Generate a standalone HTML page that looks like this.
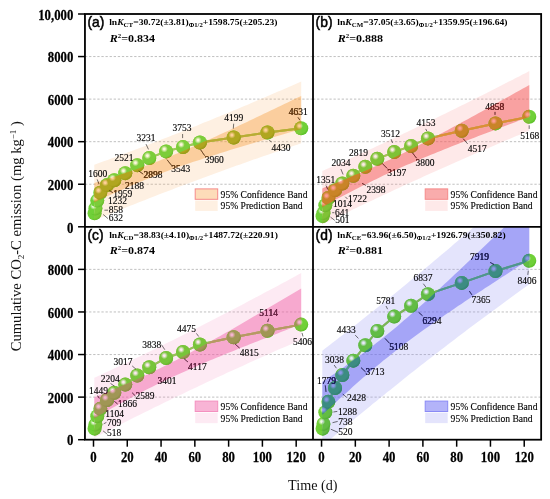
<!DOCTYPE html>
<html><head><meta charset="utf-8"><title>Cumulative CO2-C emission</title>
<style>html,body{margin:0;padding:0;background:#fff}body{width:550px;height:499px;overflow:hidden}</style></head>
<body>
<svg width="550" height="499" viewBox="0 0 550 499" style="display:block">
<defs>
<radialGradient id="sph" cx="0.37" cy="0.33" r="0.66" fx="0.37" fy="0.33"><stop offset="0" stop-color="#f0fbe4"/><stop offset="0.09" stop-color="#f0fbe4"/><stop offset="0.38" stop-color="#70d038"/><stop offset="0.8" stop-color="#70d038"/><stop offset="1" stop-color="#5ec22a"/></radialGradient>
<radialGradient id="spha" cx="0.37" cy="0.33" r="0.66" fx="0.37" fy="0.33"><stop offset="0" stop-color="#ffcf98"/><stop offset="0.09" stop-color="#ffcf98"/><stop offset="0.38" stop-color="#b0a620"/><stop offset="0.8" stop-color="#b0a620"/><stop offset="1" stop-color="#a29816"/></radialGradient>
<radialGradient id="sppa" cx="0.37" cy="0.33" r="0.66" fx="0.37" fy="0.33"><stop offset="0" stop-color="#fdf6dc"/><stop offset="0.09" stop-color="#fdf6dc"/><stop offset="0.38" stop-color="#7ccd3a"/><stop offset="0.8" stop-color="#7ccd3a"/><stop offset="1" stop-color="#6cc030"/></radialGradient>
<radialGradient id="sphb" cx="0.37" cy="0.33" r="0.66" fx="0.37" fy="0.33"><stop offset="0" stop-color="#ff9c94"/><stop offset="0.09" stop-color="#ff9c94"/><stop offset="0.38" stop-color="#c98428"/><stop offset="0.8" stop-color="#c98428"/><stop offset="1" stop-color="#bc781e"/></radialGradient>
<radialGradient id="sppb" cx="0.37" cy="0.33" r="0.66" fx="0.37" fy="0.33"><stop offset="0" stop-color="#fdeae6"/><stop offset="0.09" stop-color="#fdeae6"/><stop offset="0.38" stop-color="#80c236"/><stop offset="0.8" stop-color="#80c236"/><stop offset="1" stop-color="#70b62c"/></radialGradient>
<radialGradient id="sphc" cx="0.37" cy="0.33" r="0.66" fx="0.37" fy="0.33"><stop offset="0" stop-color="#f6b4d2"/><stop offset="0.09" stop-color="#f6b4d2"/><stop offset="0.38" stop-color="#a09655"/><stop offset="0.8" stop-color="#a09655"/><stop offset="1" stop-color="#938a4a"/></radialGradient>
<radialGradient id="sppc" cx="0.37" cy="0.33" r="0.66" fx="0.37" fy="0.33"><stop offset="0" stop-color="#fce8f0"/><stop offset="0.09" stop-color="#fce8f0"/><stop offset="0.38" stop-color="#78c43a"/><stop offset="0.8" stop-color="#78c43a"/><stop offset="1" stop-color="#68b830"/></radialGradient>
<radialGradient id="sphd" cx="0.37" cy="0.33" r="0.66" fx="0.37" fy="0.33"><stop offset="0" stop-color="#8c96ea"/><stop offset="0.09" stop-color="#8c96ea"/><stop offset="0.38" stop-color="#3c8c82"/><stop offset="0.8" stop-color="#3c8c82"/><stop offset="1" stop-color="#328078"/></radialGradient>
<radialGradient id="sppd" cx="0.37" cy="0.33" r="0.66" fx="0.37" fy="0.33"><stop offset="0" stop-color="#e8e8fc"/><stop offset="0.09" stop-color="#e8e8fc"/><stop offset="0.38" stop-color="#62bc44"/><stop offset="0.8" stop-color="#62bc44"/><stop offset="1" stop-color="#54ae38"/></radialGradient>
<clipPath id="cla"><rect x="84.95" y="14.00" width="228.05" height="212.80"/></clipPath>
<clipPath id="clb"><rect x="313.00" y="14.00" width="228.15" height="212.80"/></clipPath>
<clipPath id="clc"><rect x="84.95" y="226.80" width="228.05" height="212.90"/></clipPath>
<clipPath id="cld"><rect x="313.00" y="226.80" width="228.15" height="212.90"/></clipPath>
</defs>
<rect width="550" height="499" fill="#fff"/>
<line x1="85.0" y1="184.24" x2="313.0" y2="184.24" stroke="#b0b0b0" stroke-width="0.8" stroke-dasharray="2.3 1.8"/>
<line x1="85.0" y1="141.68" x2="313.0" y2="141.68" stroke="#b0b0b0" stroke-width="0.8" stroke-dasharray="2.3 1.8"/>
<line x1="85.0" y1="99.12" x2="313.0" y2="99.12" stroke="#b0b0b0" stroke-width="0.8" stroke-dasharray="2.3 1.8"/>
<line x1="85.0" y1="56.56" x2="313.0" y2="56.56" stroke="#b0b0b0" stroke-width="0.8" stroke-dasharray="2.3 1.8"/>
<line x1="313.0" y1="184.24" x2="541.1" y2="184.24" stroke="#b0b0b0" stroke-width="0.8" stroke-dasharray="2.3 1.8"/>
<line x1="313.0" y1="141.68" x2="541.1" y2="141.68" stroke="#b0b0b0" stroke-width="0.8" stroke-dasharray="2.3 1.8"/>
<line x1="313.0" y1="99.12" x2="541.1" y2="99.12" stroke="#b0b0b0" stroke-width="0.8" stroke-dasharray="2.3 1.8"/>
<line x1="313.0" y1="56.56" x2="541.1" y2="56.56" stroke="#b0b0b0" stroke-width="0.8" stroke-dasharray="2.3 1.8"/>
<line x1="85.0" y1="397.12" x2="313.0" y2="397.12" stroke="#b0b0b0" stroke-width="0.8" stroke-dasharray="2.3 1.8"/>
<line x1="85.0" y1="354.54" x2="313.0" y2="354.54" stroke="#b0b0b0" stroke-width="0.8" stroke-dasharray="2.3 1.8"/>
<line x1="85.0" y1="311.96" x2="313.0" y2="311.96" stroke="#b0b0b0" stroke-width="0.8" stroke-dasharray="2.3 1.8"/>
<line x1="85.0" y1="269.38" x2="313.0" y2="269.38" stroke="#b0b0b0" stroke-width="0.8" stroke-dasharray="2.3 1.8"/>
<line x1="313.0" y1="397.12" x2="541.1" y2="397.12" stroke="#b0b0b0" stroke-width="0.8" stroke-dasharray="2.3 1.8"/>
<line x1="313.0" y1="354.54" x2="541.1" y2="354.54" stroke="#b0b0b0" stroke-width="0.8" stroke-dasharray="2.3 1.8"/>
<line x1="313.0" y1="311.96" x2="541.1" y2="311.96" stroke="#b0b0b0" stroke-width="0.8" stroke-dasharray="2.3 1.8"/>
<line x1="313.0" y1="269.38" x2="541.1" y2="269.38" stroke="#b0b0b0" stroke-width="0.8" stroke-dasharray="2.3 1.8"/>
<defs>
<g id="pta"><polyline points="94.51,213.35 95.36,208.54 97.22,200.58 100.26,192.75 107.01,185.11 114.27,180.24 125.25,173.15 137.25,165.13 149.24,158.04 166.13,151.40 183.02,146.94 199.91,142.53 233.69,137.45 267.47,132.53 301.25,128.25" fill="none" stroke-width="2"/>
<circle cx="94.51" cy="213.35" r="7" stroke="none"/>
<circle cx="95.36" cy="208.54" r="7" stroke="none"/>
<circle cx="97.22" cy="200.58" r="7" stroke="none"/>
<circle cx="100.26" cy="192.75" r="7" stroke="none"/>
<circle cx="107.01" cy="185.11" r="7" stroke="none"/>
<circle cx="114.27" cy="180.24" r="7" stroke="none"/>
<circle cx="125.25" cy="173.15" r="7" stroke="none"/>
<circle cx="137.25" cy="165.13" r="7" stroke="none"/>
<circle cx="149.24" cy="158.04" r="7" stroke="none"/>
<circle cx="166.13" cy="151.40" r="7" stroke="none"/>
<circle cx="183.02" cy="146.94" r="7" stroke="none"/>
<circle cx="199.91" cy="142.53" r="7" stroke="none"/>
<circle cx="233.69" cy="137.45" r="7" stroke="none"/>
<circle cx="267.47" cy="132.53" r="7" stroke="none"/>
<circle cx="301.25" cy="128.25" r="7" stroke="none"/>
</g>
<polygon id="ppa" points="94.3,164.8 97.7,163.6 101.0,162.3 104.4,161.1 107.8,159.9 111.2,158.6 114.6,157.4 118.0,156.1 121.4,154.8 124.8,153.6 128.2,152.3 131.6,151.0 135.0,149.7 138.4,148.5 141.8,147.2 145.2,145.9 148.6,144.6 151.9,143.3 155.3,142.0 158.7,140.7 162.1,139.3 165.5,138.0 168.9,136.7 172.3,135.3 175.7,134.0 179.1,132.7 182.5,131.3 185.9,130.0 189.3,128.6 192.7,127.3 196.1,125.9 199.5,124.5 202.8,123.1 206.2,121.8 209.6,120.4 213.0,119.0 216.4,117.6 219.8,116.2 223.2,114.8 226.6,113.4 230.0,112.0 233.4,110.6 236.8,109.2 240.2,107.7 243.6,106.3 247.0,104.9 250.3,103.4 253.7,102.0 257.1,100.6 260.5,99.1 263.9,97.7 267.3,96.2 270.7,94.7 274.1,93.3 277.5,91.8 280.9,90.4 284.3,88.9 287.7,87.4 291.1,85.9 294.5,84.4 297.9,83.0 301.2,81.5 301.2,143.3 297.9,144.4 294.5,145.6 291.1,146.7 287.7,147.9 284.3,149.0 280.9,150.2 277.5,151.4 274.1,152.5 270.7,153.7 267.3,154.9 263.9,156.0 260.5,157.2 257.1,158.4 253.7,159.6 250.3,160.8 247.0,162.0 243.6,163.2 240.2,164.4 236.8,165.6 233.4,166.8 230.0,168.0 226.6,169.2 223.2,170.5 219.8,171.7 216.4,172.9 213.0,174.2 209.6,175.4 206.2,176.7 202.8,177.9 199.5,179.2 196.1,180.4 192.7,181.7 189.3,183.0 185.9,184.2 182.5,185.5 179.1,186.8 175.7,188.1 172.3,189.4 168.9,190.7 165.5,192.0 162.1,193.3 158.7,194.6 155.3,195.9 151.9,197.3 148.6,198.6 145.2,199.9 141.8,201.2 138.4,202.6 135.0,203.9 131.6,205.3 128.2,206.6 124.8,208.0 121.4,209.4 118.0,210.7 114.6,212.1 111.2,213.5 107.8,214.9 104.4,216.3 101.0,217.7 97.7,219.0 94.3,220.4"/><polygon id="cpa" points="94.3,183.1 97.7,182.0 101.0,180.9 104.4,179.8 107.8,178.8 111.2,177.7 114.6,176.5 118.0,175.4 121.4,174.3 124.8,173.2 128.2,172.0 131.6,170.8 135.0,169.7 138.4,168.5 141.8,167.2 145.2,166.0 148.6,164.8 151.9,163.5 155.3,162.2 158.7,160.9 162.1,159.6 165.5,158.2 168.9,156.9 172.3,155.5 175.7,154.1 179.1,152.7 182.5,151.2 185.9,149.8 189.3,148.3 192.7,146.8 196.1,145.3 199.5,143.8 202.8,142.3 206.2,140.8 209.6,139.3 213.0,137.7 216.4,136.2 219.8,134.6 223.2,133.0 226.6,131.5 230.0,129.9 233.4,128.3 236.8,126.7 240.2,125.1 243.6,123.5 247.0,121.9 250.3,120.3 253.7,118.7 257.1,117.1 260.5,115.4 263.9,113.8 267.3,112.2 270.7,110.6 274.1,109.0 277.5,107.3 280.9,105.7 284.3,104.1 287.7,102.4 291.1,100.8 294.5,99.1 297.9,97.5 301.2,95.9 301.2,128.9 297.9,129.9 294.5,130.9 291.1,131.9 287.7,132.9 284.3,133.9 280.9,134.9 277.5,135.9 274.1,136.9 270.7,137.9 267.3,138.9 263.9,139.9 260.5,140.9 257.1,141.9 253.7,142.9 250.3,143.9 247.0,145.0 243.6,146.0 240.2,147.0 236.8,148.1 233.4,149.1 230.0,150.1 226.6,151.2 223.2,152.2 219.8,153.3 216.4,154.4 213.0,155.5 209.6,156.5 206.2,157.6 202.8,158.7 199.5,159.9 196.1,161.0 192.7,162.1 189.3,163.3 185.9,164.4 182.5,165.6 179.1,166.8 175.7,168.0 172.3,169.3 168.9,170.5 165.5,171.8 162.1,173.1 158.7,174.4 155.3,175.7 151.9,177.0 148.6,178.4 145.2,179.8 141.8,181.2 138.4,182.6 135.0,184.0 131.6,185.5 128.2,186.9 124.8,188.4 121.4,189.9 118.0,191.4 114.6,192.9 111.2,194.4 107.8,196.0 104.4,197.5 101.0,199.1 97.7,200.6 94.3,202.2"/>
<clipPath id="pfa"><use href="#ppa"/></clipPath><clipPath id="cfa"><use href="#cpa"/></clipPath>
<g id="lba" font-family="'Liberation Serif',serif" font-size="9.5" stroke-width="0.12">
<text x="108.8" y="221.0">632</text>
<text x="108.8" y="213.3">858</text>
<text x="108" y="203.7">1232</text>
<text x="113.3" y="196.5">1959</text>
<text x="124.9" y="189.3">2188</text>
<text x="88.3" y="177.2">1600</text>
<text x="114.5" y="161.1">2521</text>
<text x="143.6" y="177.7">2898</text>
<text x="136.4" y="141.2">3231</text>
<text x="171.3" y="171.9">3543</text>
<text x="172.5" y="130.8">3753</text>
<text x="204.7" y="163.0">3960</text>
<text x="224.3" y="120.5">4199</text>
<text x="271.6" y="150.9">4430</text>
<text x="288.8" y="115.0">4631</text>
<line x1="103.2" y1="214.5" x2="108" y2="218.6" stroke-width="0.55"/>
<line x1="104.4" y1="210.2" x2="108" y2="210.2" stroke-width="0.55"/>
<line x1="109.3" y1="190.5" x2="112.9" y2="192.7" stroke-width="0.55"/>
<line x1="97.2" y1="179.4" x2="98.9" y2="183.8" stroke-width="0.55"/>
<line x1="138.8" y1="171" x2="143.2" y2="174.1" stroke-width="0.55"/>
<line x1="146" y1="144.1" x2="148.5" y2="149.4" stroke-width="0.55"/>
<line x1="167" y1="159.7" x2="171.8" y2="165.7" stroke-width="0.55"/>
<line x1="182.6" y1="134" x2="182.6" y2="138.1" stroke-width="0.55"/>
<line x1="200.6" y1="149.7" x2="204.7" y2="155.7" stroke-width="0.55"/>
<line x1="233.7" y1="123.7" x2="233.3" y2="128.5" stroke-width="0.55"/>
<line x1="269.2" y1="140.3" x2="271.6" y2="141.9" stroke-width="0.55"/>
<line x1="298" y1="117.4" x2="299.9" y2="120.2" stroke-width="0.55"/>
</g>
</defs>
<g clip-path="url(#cla)">
<use href="#pta" fill="url(#sph)" stroke="#8ccc4c"/>
<use href="#ppa" fill="#fbb46e" fill-opacity="0.2"/>
<use href="#cpa" fill="#f8942a" fill-opacity="0.37"/>
<g clip-path="url(#pfa)"><use href="#pta" fill="url(#sppa)" stroke="#9ccb58"/></g>
<g clip-path="url(#cfa)"><use href="#pta" fill="url(#spha)" stroke="#bcaa32"/></g>
<use href="#lba" fill="#000" stroke="#000"/>
<g clip-path="url(#cfa)"><use href="#lba" fill="#7a4410" stroke="#7a4410"/></g>
</g>
<rect x="195.2" y="188.9" width="22.5" height="10.4" fill="#f8942a" fill-opacity="0.33" stroke="#f58a8a" stroke-width="1"/>
<rect x="195.2" y="200.5" width="22.5" height="10.4" fill="#fbb46e" fill-opacity="0.2"/>
<g font-family="'Liberation Serif',serif" font-size="9.6" fill="#000" stroke="#000" stroke-width="0.12">
<text x="220.6" y="197.7">95% Confidence Band</text>
<text x="220.6" y="209.4">95% Prediction Band</text>
</g>
<text transform="translate(87.5,26.8) scale(0.96,1)" font-family="'Liberation Sans',sans-serif" font-size="14.4" stroke="#000" stroke-width="0.5">(a)</text>
<text transform="translate(109.2,25.0) scale(1.045,1)" font-family="'Liberation Serif',serif" font-weight="bold" font-size="9.2" fill="#000">ln<tspan font-style="italic">K</tspan><tspan font-size="6.6" dy="2">CT</tspan><tspan dy="-2">=30.72(±3.81)</tspan><tspan font-size="6.4" dy="2">Φ1/2</tspan><tspan dy="-2">+1598.75(±205.23)</tspan></text>
<text transform="translate(109.8,41.6) scale(1.055,1)" font-family="'Liberation Serif',serif" font-weight="bold" font-size="11.4" fill="#000"><tspan font-style="italic">R</tspan><tspan font-size="6.5" dy="-4">2</tspan><tspan dy="4">=0.834</tspan></text>
<defs>
<g id="ptb"><polyline points="322.56,216.14 323.41,213.16 325.27,205.22 328.31,198.05 335.06,190.16 342.32,183.52 353.30,175.77 365.30,166.81 377.29,158.77 394.18,152.06 411.07,145.94 427.96,138.42 461.74,130.68 495.52,123.42 529.30,116.82" fill="none" stroke-width="2"/>
<circle cx="322.56" cy="216.14" r="7" stroke="none"/>
<circle cx="323.41" cy="213.16" r="7" stroke="none"/>
<circle cx="325.27" cy="205.22" r="7" stroke="none"/>
<circle cx="328.31" cy="198.05" r="7" stroke="none"/>
<circle cx="335.06" cy="190.16" r="7" stroke="none"/>
<circle cx="342.32" cy="183.52" r="7" stroke="none"/>
<circle cx="353.30" cy="175.77" r="7" stroke="none"/>
<circle cx="365.30" cy="166.81" r="7" stroke="none"/>
<circle cx="377.29" cy="158.77" r="7" stroke="none"/>
<circle cx="394.18" cy="152.06" r="7" stroke="none"/>
<circle cx="411.07" cy="145.94" r="7" stroke="none"/>
<circle cx="427.96" cy="138.42" r="7" stroke="none"/>
<circle cx="461.74" cy="130.68" r="7" stroke="none"/>
<circle cx="495.52" cy="123.42" r="7" stroke="none"/>
<circle cx="529.30" cy="116.82" r="7" stroke="none"/>
</g>
<polygon id="ppb" points="322.3,170.9 325.7,169.4 329.1,167.9 332.5,166.4 335.9,164.9 339.3,163.4 342.7,161.8 346.1,160.3 349.5,158.8 352.8,157.2 356.2,155.7 359.6,154.1 363.0,152.6 366.4,151.0 369.8,149.5 373.2,147.9 376.6,146.3 380.0,144.7 383.4,143.2 386.8,141.6 390.2,140.0 393.6,138.4 397.0,136.8 400.4,135.2 403.7,133.6 407.1,132.0 410.5,130.3 413.9,128.7 417.3,127.1 420.7,125.5 424.1,123.8 427.5,122.2 430.9,120.6 434.3,118.9 437.7,117.2 441.1,115.6 444.5,113.9 447.9,112.3 451.3,110.6 454.6,108.9 458.0,107.2 461.4,105.6 464.8,103.9 468.2,102.2 471.6,100.5 475.0,98.8 478.4,97.1 481.8,95.4 485.2,93.7 488.6,92.0 492.0,90.2 495.4,88.5 498.8,86.8 502.2,85.1 505.5,83.3 508.9,81.6 512.3,79.9 515.7,78.1 519.1,76.4 522.5,74.6 525.9,72.9 529.3,71.1 529.3,130.6 525.9,132.1 522.5,133.5 519.1,134.9 515.7,136.3 512.3,137.8 508.9,139.2 505.5,140.6 502.2,142.1 498.8,143.5 495.4,145.0 492.0,146.4 488.6,147.9 485.2,149.4 481.8,150.8 478.4,152.3 475.0,153.8 471.6,155.2 468.2,156.7 464.8,158.2 461.4,159.7 458.0,161.2 454.6,162.7 451.3,164.2 447.9,165.7 444.5,167.2 441.1,168.7 437.7,170.2 434.3,171.7 430.9,173.3 427.5,174.8 424.1,176.3 420.7,177.9 417.3,179.4 413.9,181.0 410.5,182.5 407.1,184.1 403.7,185.6 400.4,187.2 397.0,188.8 393.6,190.3 390.2,191.9 386.8,193.5 383.4,195.1 380.0,196.7 376.6,198.3 373.2,199.9 369.8,201.5 366.4,203.1 363.0,204.7 359.6,206.3 356.2,208.0 352.8,209.6 349.5,211.2 346.1,212.9 342.7,214.5 339.3,216.2 335.9,217.8 332.5,219.5 329.1,221.1 325.7,222.8 322.3,224.5"/><polygon id="cpb" points="322.3,188.5 325.7,187.1 329.1,185.8 332.5,184.4 335.9,183.1 339.3,181.7 342.7,180.3 346.1,178.9 349.5,177.5 352.8,176.1 356.2,174.6 359.6,173.2 363.0,171.7 366.4,170.3 369.8,168.8 373.2,167.3 376.6,165.7 380.0,164.2 383.4,162.6 386.8,161.0 390.2,159.5 393.6,157.8 397.0,156.2 400.4,154.5 403.7,152.9 407.1,151.2 410.5,149.5 413.9,147.8 417.3,146.0 420.7,144.3 424.1,142.5 427.5,140.8 430.9,139.0 434.3,137.2 437.7,135.4 441.1,133.6 444.5,131.8 447.9,130.0 451.3,128.1 454.6,126.3 458.0,124.5 461.4,122.6 464.8,120.8 468.2,118.9 471.6,117.0 475.0,115.2 478.4,113.3 481.8,111.4 485.2,109.6 488.6,107.7 492.0,105.8 495.4,103.9 498.8,102.0 502.2,100.1 505.5,98.3 508.9,96.4 512.3,94.5 515.7,92.6 519.1,90.7 522.5,88.8 525.9,86.9 529.3,85.0 529.3,116.8 525.9,118.1 522.5,119.3 519.1,120.6 515.7,121.9 512.3,123.2 508.9,124.4 505.5,125.7 502.2,127.0 498.8,128.3 495.4,129.6 492.0,130.9 488.6,132.2 485.2,133.5 481.8,134.8 478.4,136.1 475.0,137.4 471.6,138.7 468.2,140.0 464.8,141.3 461.4,142.6 458.0,144.0 454.6,145.3 451.3,146.6 447.9,148.0 444.5,149.3 441.1,150.7 437.7,152.1 434.3,153.4 430.9,154.8 427.5,156.2 424.1,157.6 420.7,159.0 417.3,160.5 413.9,161.9 410.5,163.4 407.1,164.8 403.7,166.3 400.4,167.8 397.0,169.4 393.6,170.9 390.2,172.5 386.8,174.0 383.4,175.6 380.0,177.2 376.6,178.9 373.2,180.5 369.8,182.2 366.4,183.9 363.0,185.6 359.6,187.3 356.2,189.0 352.8,190.8 349.5,192.5 346.1,194.3 342.7,196.0 339.3,197.8 335.9,199.6 332.5,201.4 329.1,203.3 325.7,205.1 322.3,206.9"/>
<clipPath id="pfb"><use href="#ppb"/></clipPath><clipPath id="cfb"><use href="#cpb"/></clipPath>
<g id="lbb" font-family="'Liberation Serif',serif" font-size="9.5" stroke-width="0.12">
<text x="335.3" y="222.8">501</text>
<text x="335" y="215.8">641</text>
<text x="333" y="207.1">1014</text>
<text x="347.9" y="201.6">1722</text>
<text x="316.3" y="183.1">1351</text>
<text x="366.5" y="193.4">2398</text>
<text x="331.5" y="166.1">2034</text>
<text x="349" y="156.3">2819</text>
<text x="387.2" y="175.9">3197</text>
<text x="381" y="136.6">3512</text>
<text x="415.5" y="166.1">3800</text>
<text x="416.6" y="126.1">4153</text>
<text x="467.7" y="152.1">4517</text>
<text x="485.2" y="109.6">4858</text>
<text x="520.3" y="138.5">5168</text>
<line x1="330.5" y1="217.1" x2="334.8" y2="220.4" stroke-width="0.55"/>
<line x1="332.2" y1="212.7" x2="334.4" y2="212.7" stroke-width="0.55"/>
<line x1="345.3" y1="196.8" x2="347.5" y2="199" stroke-width="0.55"/>
<line x1="326" y1="185.5" x2="327.8" y2="189.4" stroke-width="0.55"/>
<line x1="362" y1="183.3" x2="366" y2="185.5" stroke-width="0.55"/>
<line x1="340.9" y1="169.1" x2="343.1" y2="174.5" stroke-width="0.55"/>
<line x1="382.4" y1="163.6" x2="387.2" y2="168.4" stroke-width="0.55"/>
<line x1="391.1" y1="139.2" x2="392.6" y2="142.9" stroke-width="0.55"/>
<line x1="412.3" y1="152.7" x2="416.6" y2="158.2" stroke-width="0.55"/>
<line x1="425.7" y1="128.9" x2="426.8" y2="131.1" stroke-width="0.55"/>
<line x1="463.2" y1="138.7" x2="467.7" y2="143.9" stroke-width="0.55"/>
<line x1="495" y1="111.9" x2="495" y2="114.8" stroke-width="0.55"/>
<line x1="529.2" y1="125.3" x2="529.2" y2="128.9" stroke-width="0.55"/>
</g>
</defs>
<g clip-path="url(#clb)">
<use href="#ptb" fill="url(#sph)" stroke="#8ccc4c"/>
<use href="#ppb" fill="#f98a8a" fill-opacity="0.19"/>
<use href="#cpb" fill="#f45a5a" fill-opacity="0.5"/>
<g clip-path="url(#pfb)"><use href="#ptb" fill="url(#sppb)" stroke="#a4c058"/></g>
<g clip-path="url(#cfb)"><use href="#ptb" fill="url(#sphb)" stroke="#e08c34"/></g>
<use href="#lbb" fill="#000" stroke="#000"/>
<g clip-path="url(#cfb)"><use href="#lbb" fill="#8a2424" stroke="#8a2424"/></g>
</g>
<rect x="425.2" y="188.9" width="22.5" height="10.4" fill="#f45a5a" fill-opacity="0.50" stroke="#f58a8a" stroke-width="1"/>
<rect x="425.2" y="200.5" width="22.5" height="10.4" fill="#f98a8a" fill-opacity="0.19"/>
<g font-family="'Liberation Serif',serif" font-size="9.6" fill="#000" stroke="#000" stroke-width="0.12">
<text x="450.6" y="197.7">95% Confidence Band</text>
<text x="450.6" y="209.4">95% Prediction Band</text>
</g>
<text transform="translate(315.6,26.8) scale(0.96,1)" font-family="'Liberation Sans',sans-serif" font-size="14.4" stroke="#000" stroke-width="0.5">(b)</text>
<text transform="translate(337.3,25.0) scale(1.045,1)" font-family="'Liberation Serif',serif" font-weight="bold" font-size="9.2" fill="#000">ln<tspan font-style="italic">K</tspan><tspan font-size="6.6" dy="2">CM</tspan><tspan dy="-2">=37.05(±3.65)</tspan><tspan font-size="6.4" dy="2">Φ1/2</tspan><tspan dy="-2">+1359.95(±196.64)</tspan></text>
<text transform="translate(337.8,41.6) scale(1.055,1)" font-family="'Liberation Serif',serif" font-weight="bold" font-size="11.4" fill="#000"><tspan font-style="italic">R</tspan><tspan font-size="6.5" dy="-4">2</tspan><tspan dy="4">=0.888</tspan></text>
<defs>
<g id="ptc"><polyline points="94.51,428.67 95.36,424.61 97.22,416.20 100.26,408.85 107.01,399.97 114.27,392.78 125.25,384.58 137.25,375.47 149.24,367.29 166.13,357.99 183.02,352.05 199.91,344.43 233.69,337.19 267.47,330.82 301.25,324.61" fill="none" stroke-width="2"/>
<circle cx="94.51" cy="428.67" r="7" stroke="none"/>
<circle cx="95.36" cy="424.61" r="7" stroke="none"/>
<circle cx="97.22" cy="416.20" r="7" stroke="none"/>
<circle cx="100.26" cy="408.85" r="7" stroke="none"/>
<circle cx="107.01" cy="399.97" r="7" stroke="none"/>
<circle cx="114.27" cy="392.78" r="7" stroke="none"/>
<circle cx="125.25" cy="384.58" r="7" stroke="none"/>
<circle cx="137.25" cy="375.47" r="7" stroke="none"/>
<circle cx="149.24" cy="367.29" r="7" stroke="none"/>
<circle cx="166.13" cy="357.99" r="7" stroke="none"/>
<circle cx="183.02" cy="352.05" r="7" stroke="none"/>
<circle cx="199.91" cy="344.43" r="7" stroke="none"/>
<circle cx="233.69" cy="337.19" r="7" stroke="none"/>
<circle cx="267.47" cy="330.82" r="7" stroke="none"/>
<circle cx="301.25" cy="324.61" r="7" stroke="none"/>
</g>
<polygon id="ppc" points="94.3,377.8 97.7,376.2 101.0,374.7 104.4,373.1 107.8,371.5 111.2,369.9 114.6,368.3 118.0,366.7 121.4,365.1 124.8,363.5 128.2,361.9 131.6,360.3 135.0,358.6 138.4,357.0 141.8,355.4 145.2,353.7 148.6,352.1 151.9,350.4 155.3,348.8 158.7,347.1 162.1,345.4 165.5,343.8 168.9,342.1 172.3,340.4 175.7,338.7 179.1,337.0 182.5,335.3 185.9,333.6 189.3,331.9 192.7,330.2 196.1,328.5 199.5,326.8 202.8,325.0 206.2,323.3 209.6,321.6 213.0,319.8 216.4,318.1 219.8,316.3 223.2,314.6 226.6,312.8 230.0,311.0 233.4,309.3 236.8,307.5 240.2,305.7 243.6,303.9 247.0,302.1 250.3,300.3 253.7,298.5 257.1,296.7 260.5,294.9 263.9,293.1 267.3,291.3 270.7,289.5 274.1,287.7 277.5,285.9 280.9,284.0 284.3,282.2 287.7,280.4 291.1,278.5 294.5,276.7 297.9,274.8 301.2,273.0 301.2,339.7 297.9,341.2 294.5,342.7 291.1,344.2 287.7,345.7 284.3,347.2 280.9,348.6 277.5,350.1 274.1,351.6 270.7,353.2 267.3,354.7 263.9,356.2 260.5,357.7 257.1,359.2 253.7,360.7 250.3,362.3 247.0,363.8 243.6,365.4 240.2,366.9 236.8,368.4 233.4,370.0 230.0,371.6 226.6,373.1 223.2,374.7 219.8,376.3 216.4,377.8 213.0,379.4 209.6,381.0 206.2,382.6 202.8,384.2 199.5,385.8 196.1,387.4 192.7,389.0 189.3,390.6 185.9,392.2 182.5,393.9 179.1,395.5 175.7,397.1 172.3,398.8 168.9,400.4 165.5,402.1 162.1,403.7 158.7,405.4 155.3,407.0 151.9,408.7 148.6,410.4 145.2,412.1 141.8,413.8 138.4,415.5 135.0,417.1 131.6,418.8 128.2,420.6 124.8,422.3 121.4,424.0 118.0,425.7 114.6,427.4 111.2,429.2 107.8,430.9 104.4,432.6 101.0,434.4 97.7,436.1 94.3,437.9"/><polygon id="cpc" points="94.3,397.5 97.7,396.1 101.0,394.7 104.4,393.3 107.8,391.9 111.2,390.5 114.6,389.0 118.0,387.6 121.4,386.1 124.8,384.6 128.2,383.2 131.6,381.6 135.0,380.1 138.4,378.6 141.8,377.0 145.2,375.5 148.6,373.9 151.9,372.2 155.3,370.6 158.7,369.0 162.1,367.3 165.5,365.6 168.9,363.9 172.3,362.1 175.7,360.4 179.1,358.6 182.5,356.8 185.9,355.0 189.3,353.2 192.7,351.3 196.1,349.5 199.5,347.6 202.8,345.7 206.2,343.8 209.6,341.9 213.0,340.0 216.4,338.1 219.8,336.2 223.2,334.2 226.6,332.3 230.0,330.4 233.4,328.4 236.8,326.4 240.2,324.5 243.6,322.5 247.0,320.5 250.3,318.5 253.7,316.6 257.1,314.6 260.5,312.6 263.9,310.6 267.3,308.6 270.7,306.6 274.1,304.6 277.5,302.6 280.9,300.6 284.3,298.6 287.7,296.6 291.1,294.6 294.5,292.5 297.9,290.5 301.2,288.5 301.2,324.2 297.9,325.5 294.5,326.8 291.1,328.1 287.7,329.5 284.3,330.8 280.9,332.1 277.5,333.4 274.1,334.7 270.7,336.1 267.3,337.4 263.9,338.7 260.5,340.1 257.1,341.4 253.7,342.7 250.3,344.1 247.0,345.4 243.6,346.8 240.2,348.1 236.8,349.5 233.4,350.9 230.0,352.2 226.6,353.6 223.2,355.0 219.8,356.4 216.4,357.8 213.0,359.2 209.6,360.6 206.2,362.0 202.8,363.5 199.5,364.9 196.1,366.4 192.7,367.9 189.3,369.4 185.9,370.9 182.5,372.4 179.1,373.9 175.7,375.5 172.3,377.0 168.9,378.6 165.5,380.2 162.1,381.9 158.7,383.5 155.3,385.2 151.9,386.9 148.6,388.6 145.2,390.3 141.8,392.1 138.4,393.9 135.0,395.6 131.6,397.5 128.2,399.3 124.8,401.1 121.4,403.0 118.0,404.8 114.6,406.7 111.2,408.6 107.8,410.5 104.4,412.4 101.0,414.3 97.7,416.3 94.3,418.2"/>
<clipPath id="pfc"><use href="#ppc"/></clipPath><clipPath id="cfc"><use href="#cpc"/></clipPath>
<g id="lbc" font-family="'Liberation Serif',serif" font-size="9.5" stroke-width="0.12">
<text x="107.1" y="436.3">518</text>
<text x="107.1" y="425.5">709</text>
<text x="105.3" y="416.8">1104</text>
<text x="118.1" y="407.1">1866</text>
<text x="88.9" y="394.1">1449</text>
<text x="135.6" y="398.8">2589</text>
<text x="100.8" y="381.8">2204</text>
<text x="113.6" y="364.5">3017</text>
<text x="157.6" y="384.2">3401</text>
<text x="142.3" y="348.4">3838</text>
<text x="188" y="370.1">4117</text>
<text x="177.1" y="331.5">4475</text>
<text x="239.7" y="356.1">4815</text>
<text x="259.3" y="316.2">5114</text>
<text x="293.1" y="344.9">5406</text>
<line x1="103.1" y1="430.9" x2="106.9" y2="433.9" stroke-width="0.55"/>
<line x1="103.7" y1="423.8" x2="106.4" y2="422.4" stroke-width="0.55"/>
<line x1="114.3" y1="401.3" x2="117.6" y2="404" stroke-width="0.55"/>
<line x1="97.5" y1="395.5" x2="99.3" y2="398.4" stroke-width="0.55"/>
<line x1="132.2" y1="392.8" x2="135.6" y2="396.2" stroke-width="0.55"/>
<line x1="110.5" y1="383.4" x2="114.3" y2="386.1" stroke-width="0.55"/>
<line x1="132.2" y1="365.9" x2="136" y2="369.3" stroke-width="0.55"/>
<line x1="161.4" y1="344.6" x2="164.8" y2="349.7" stroke-width="0.55"/>
<line x1="184.2" y1="358.9" x2="188" y2="362" stroke-width="0.55"/>
<line x1="196.4" y1="333.4" x2="198.7" y2="336.5" stroke-width="0.55"/>
<line x1="235.1" y1="344.1" x2="239.7" y2="348.2" stroke-width="0.55"/>
<line x1="268.7" y1="318.7" x2="267.7" y2="322" stroke-width="0.55"/>
<line x1="302" y1="332.9" x2="303" y2="336.5" stroke-width="0.55"/>
</g>
</defs>
<g clip-path="url(#clc)">
<use href="#ptc" fill="url(#sph)" stroke="#8ccc4c"/>
<use href="#ppc" fill="#f58fc0" fill-opacity="0.19"/>
<use href="#cpc" fill="#f060a6" fill-opacity="0.47"/>
<g clip-path="url(#pfc)"><use href="#ptc" fill="url(#sppc)" stroke="#98c05c"/></g>
<g clip-path="url(#cfc)"><use href="#ptc" fill="url(#sphc)" stroke="#b99664"/></g>
<use href="#lbc" fill="#000" stroke="#000"/>
<g clip-path="url(#cfc)"><use href="#lbc" fill="#7e2850" stroke="#7e2850"/></g>
</g>
<rect x="195.2" y="401.1" width="22.5" height="10.4" fill="#f060a6" fill-opacity="0.47" stroke="#f490bf" stroke-width="1"/>
<rect x="195.2" y="412.7" width="22.5" height="10.4" fill="#f58fc0" fill-opacity="0.19"/>
<g font-family="'Liberation Serif',serif" font-size="9.6" fill="#000" stroke="#000" stroke-width="0.12">
<text x="220.6" y="409.9">95% Confidence Band</text>
<text x="220.6" y="421.6">95% Prediction Band</text>
</g>
<text transform="translate(87.5,239.6) scale(0.96,1)" font-family="'Liberation Sans',sans-serif" font-size="14.4" stroke="#000" stroke-width="0.5">(c)</text>
<text transform="translate(109.2,237.8) scale(1.045,1)" font-family="'Liberation Serif',serif" font-weight="bold" font-size="9.2" fill="#000">ln<tspan font-style="italic">K</tspan><tspan font-size="6.6" dy="2">CD</tspan><tspan dy="-2">=38.83(±4.10)</tspan><tspan font-size="6.4" dy="2">Φ1/2</tspan><tspan dy="-2">+1487.72(±220.91)</tspan></text>
<text transform="translate(109.8,254.4) scale(1.055,1)" font-family="'Liberation Serif',serif" font-weight="bold" font-size="11.4" fill="#000"><tspan font-style="italic">R</tspan><tspan font-size="6.5" dy="-4">2</tspan><tspan dy="4">=0.874</tspan></text>
<defs>
<g id="ptd"><polyline points="322.56,428.63 323.41,423.99 325.27,412.28 328.31,401.83 335.06,388.01 342.32,375.02 353.30,360.65 365.30,345.32 377.29,330.95 394.18,316.62 411.07,305.70 427.96,294.14 461.74,282.90 495.52,271.10 529.30,260.74" fill="none" stroke-width="2"/>
<circle cx="322.56" cy="428.63" r="7" stroke="none"/>
<circle cx="323.41" cy="423.99" r="7" stroke="none"/>
<circle cx="325.27" cy="412.28" r="7" stroke="none"/>
<circle cx="328.31" cy="401.83" r="7" stroke="none"/>
<circle cx="335.06" cy="388.01" r="7" stroke="none"/>
<circle cx="342.32" cy="375.02" r="7" stroke="none"/>
<circle cx="353.30" cy="360.65" r="7" stroke="none"/>
<circle cx="365.30" cy="345.32" r="7" stroke="none"/>
<circle cx="377.29" cy="330.95" r="7" stroke="none"/>
<circle cx="394.18" cy="316.62" r="7" stroke="none"/>
<circle cx="411.07" cy="305.70" r="7" stroke="none"/>
<circle cx="427.96" cy="294.14" r="7" stroke="none"/>
<circle cx="461.74" cy="282.90" r="7" stroke="none"/>
<circle cx="495.52" cy="271.10" r="7" stroke="none"/>
<circle cx="529.30" cy="260.74" r="7" stroke="none"/>
</g>
<polygon id="ppd" points="322.3,350.7 325.7,348.1 329.1,345.5 332.5,342.8 335.9,340.2 339.3,337.6 342.7,335.0 346.1,332.3 349.5,329.7 352.8,327.0 356.2,324.4 359.6,321.7 363.0,319.0 366.4,316.3 369.8,313.6 373.2,310.9 376.6,308.2 380.0,305.5 383.4,302.7 386.8,300.0 390.2,297.3 393.6,294.5 397.0,291.7 400.4,289.0 403.7,286.2 407.1,283.4 410.5,280.6 413.9,277.8 417.3,275.0 420.7,272.2 424.1,269.4 427.5,266.5 430.9,263.7 434.3,260.8 437.7,258.0 441.1,255.1 444.5,252.2 447.9,249.4 451.3,246.5 454.6,243.6 458.0,240.7 461.4,237.8 464.8,234.8 468.2,231.9 471.6,229.0 475.0,226.0 478.4,223.1 481.8,220.1 485.2,217.2 488.6,214.2 492.0,211.2 495.4,208.3 498.8,205.3 502.2,202.3 505.5,199.3 508.9,196.3 512.3,193.3 515.7,190.3 519.1,187.2 522.5,184.2 525.9,181.2 529.3,178.1 529.3,284.2 525.9,286.7 522.5,289.1 519.1,291.6 515.7,294.0 512.3,296.5 508.9,299.0 505.5,301.5 502.2,303.9 498.8,306.4 495.4,308.9 492.0,311.4 488.6,313.9 485.2,316.5 481.8,319.0 478.4,321.5 475.0,324.0 471.6,326.6 468.2,329.1 464.8,331.7 461.4,334.3 458.0,336.8 454.6,339.4 451.3,342.0 447.9,344.6 444.5,347.2 441.1,349.8 437.7,352.4 434.3,355.0 430.9,357.7 427.5,360.3 424.1,363.0 420.7,365.6 417.3,368.3 413.9,371.0 410.5,373.6 407.1,376.3 403.7,379.0 400.4,381.7 397.0,384.4 393.6,387.2 390.2,389.9 386.8,392.6 383.4,395.4 380.0,398.1 376.6,400.9 373.2,403.6 369.8,406.4 366.4,409.2 363.0,412.0 359.6,414.8 356.2,417.6 352.8,420.4 349.5,423.3 346.1,426.1 342.7,428.9 339.3,431.8 335.9,434.6 332.5,437.5 329.1,440.4 325.7,443.3 322.3,446.1"/><polygon id="cpd" points="322.3,382.0 325.7,379.7 329.1,377.3 332.5,375.0 335.9,372.7 339.3,370.3 342.7,367.9 346.1,365.5 349.5,363.1 352.8,360.6 356.2,358.2 359.6,355.7 363.0,353.2 366.4,350.6 369.8,348.1 373.2,345.5 376.6,342.8 380.0,340.2 383.4,337.5 386.8,334.7 390.2,332.0 393.6,329.2 397.0,326.4 400.4,323.5 403.7,320.6 407.1,317.7 410.5,314.8 413.9,311.8 417.3,308.8 420.7,305.8 424.1,302.7 427.5,299.7 430.9,296.6 434.3,293.5 437.7,290.4 441.1,287.2 444.5,284.1 447.9,280.9 451.3,277.7 454.6,274.6 458.0,271.4 461.4,268.2 464.8,264.9 468.2,261.7 471.6,258.5 475.0,255.3 478.4,252.0 481.8,248.8 485.2,245.5 488.6,242.2 492.0,239.0 495.4,235.7 498.8,232.4 502.2,229.2 505.5,225.9 508.9,222.6 512.3,219.3 515.7,216.0 519.1,212.7 522.5,209.4 525.9,206.1 529.3,202.8 529.3,259.5 525.9,261.7 522.5,263.9 519.1,266.1 515.7,268.3 512.3,270.5 508.9,272.7 505.5,274.9 502.2,277.1 498.8,279.3 495.4,281.5 492.0,283.7 488.6,285.9 485.2,288.1 481.8,290.4 478.4,292.6 475.0,294.8 471.6,297.1 468.2,299.3 464.8,301.6 461.4,303.9 458.0,306.1 454.6,308.4 451.3,310.7 447.9,313.0 444.5,315.3 441.1,317.7 437.7,320.0 434.3,322.4 430.9,324.8 427.5,327.2 424.1,329.6 420.7,332.0 417.3,334.5 413.9,337.0 410.5,339.5 407.1,342.0 403.7,344.6 400.4,347.2 397.0,349.8 393.6,352.5 390.2,355.2 386.8,357.9 383.4,360.6 380.0,363.4 376.6,366.3 373.2,369.1 369.8,372.0 366.4,374.9 363.0,377.8 359.6,380.8 356.2,383.8 352.8,386.8 349.5,389.9 346.1,392.9 342.7,396.0 339.3,399.1 335.9,402.2 332.5,405.3 329.1,408.5 325.7,411.6 322.3,414.8"/>
<clipPath id="pfd"><use href="#ppd"/></clipPath><clipPath id="cfd"><use href="#cpd"/></clipPath>
<g id="lbd" font-family="'Liberation Serif',serif" font-size="9.5" stroke-width="0.12">
<text x="338.3" y="434.9">520</text>
<text x="338.3" y="425.2">738</text>
<text x="338" y="414.5">1288</text>
<text x="347.1" y="400.5">2428</text>
<text x="316.9" y="383.7">1779</text>
<text x="365.5" y="374.6">3713</text>
<text x="325" y="362.6">3038</text>
<text x="389.2" y="349.6">5108</text>
<text x="336.7" y="332.7">4433</text>
<text x="376.2" y="303.5">5781</text>
<text x="422.5" y="324.0">6294</text>
<text x="413.4" y="280.6">6837</text>
<text x="471.4" y="303.2">7365</text>
<text x="470.1" y="260.3">7919</text>
<text x="517.4" y="283.7">8406</text>
<line x1="330.8" y1="429.2" x2="338" y2="432.4" stroke-width="0.55"/>
<line x1="332.5" y1="422.7" x2="337.7" y2="421.4" stroke-width="0.55"/>
<line x1="333.4" y1="412" x2="337.3" y2="411.4" stroke-width="0.55"/>
<line x1="342.8" y1="394.2" x2="346.7" y2="397.4" stroke-width="0.55"/>
<line x1="325.3" y1="385.4" x2="326" y2="391.9" stroke-width="0.55"/>
<line x1="361" y1="367.6" x2="365.5" y2="371.8" stroke-width="0.55"/>
<line x1="334.1" y1="365" x2="336.4" y2="368.2" stroke-width="0.55"/>
<line x1="385" y1="338.4" x2="389.5" y2="343.3" stroke-width="0.55"/>
<line x1="355.2" y1="335.1" x2="358.4" y2="338.4" stroke-width="0.55"/>
<line x1="386" y1="306" x2="387.6" y2="309.2" stroke-width="0.55"/>
<line x1="418.6" y1="312.3" x2="422.5" y2="315.7" stroke-width="0.55"/>
<line x1="423.3" y1="283.7" x2="425.9" y2="287.1" stroke-width="0.55"/>
<line x1="469.3" y1="291" x2="471.9" y2="294.9" stroke-width="0.55"/>
<line x1="490.1" y1="262.4" x2="494" y2="264.5" stroke-width="0.55"/>
<line x1="528.3" y1="270.7" x2="527.8" y2="274.9" stroke-width="0.55"/>
</g>
</defs>
<g clip-path="url(#cld)">
<use href="#ptd" fill="url(#sph)" stroke="#8ccc4c"/>
<use href="#ppd" fill="#9a9af5" fill-opacity="0.27"/>
<use href="#cpd" fill="#5a5af2" fill-opacity="0.455"/>
<g clip-path="url(#pfd)"><use href="#ptd" fill="url(#sppd)" stroke="#7cb45a"/></g>
<g clip-path="url(#cfd)"><use href="#ptd" fill="url(#sphd)" stroke="#4c9494"/></g>
<use href="#lbd" fill="#000" stroke="#000"/>
<g clip-path="url(#cfd)"><use href="#lbd" fill="#20206e" stroke="#20206e"/></g>
</g>
<rect x="425.2" y="401.1" width="22.5" height="10.4" fill="#5a5af2" fill-opacity="0.46" stroke="#8a8af5" stroke-width="1"/>
<rect x="425.2" y="412.7" width="22.5" height="10.4" fill="#9a9af5" fill-opacity="0.27"/>
<g font-family="'Liberation Serif',serif" font-size="9.6" fill="#000" stroke="#000" stroke-width="0.12">
<text x="450.6" y="409.9">95% Confidence Band</text>
<text x="450.6" y="421.6">95% Prediction Band</text>
</g>
<text transform="translate(315.6,239.6) scale(0.96,1)" font-family="'Liberation Sans',sans-serif" font-size="14.4" stroke="#000" stroke-width="0.5">(d)</text>
<text transform="translate(337.3,237.8) scale(1.045,1)" font-family="'Liberation Serif',serif" font-weight="bold" font-size="9.2" fill="#000">ln<tspan font-style="italic">K</tspan><tspan font-size="6.6" dy="2">CE</tspan><tspan dy="-2">=63.96(±6.50)</tspan><tspan font-size="6.4" dy="2">Φ1/2</tspan><tspan dy="-2">+1926.79(±350.82)</tspan></text>
<text transform="translate(337.8,254.4) scale(1.055,1)" font-family="'Liberation Serif',serif" font-weight="bold" font-size="11.4" fill="#000"><tspan font-style="italic">R</tspan><tspan font-size="6.5" dy="-4">2</tspan><tspan dy="4">=0.881</tspan></text>
<g stroke="#000" stroke-width="1.8" fill="none">
<rect x="84.95" y="14.0" width="456.2" height="425.7"/>
<line x1="313.0" y1="14.0" x2="313.0" y2="439.7"/>
<line x1="84.95" y1="226.8" x2="541.15" y2="226.8"/>
</g>
<g stroke="#000" stroke-width="1.5">
<line x1="78.05" y1="226.80" x2="84.95" y2="226.80"/>
<line x1="78.05" y1="184.24" x2="84.95" y2="184.24"/>
<line x1="78.05" y1="141.68" x2="84.95" y2="141.68"/>
<line x1="78.05" y1="99.12" x2="84.95" y2="99.12"/>
<line x1="78.05" y1="56.56" x2="84.95" y2="56.56"/>
<line x1="78.05" y1="14.00" x2="84.95" y2="14.00"/>
<line x1="78.05" y1="439.70" x2="84.95" y2="439.70"/>
<line x1="78.05" y1="397.12" x2="84.95" y2="397.12"/>
<line x1="78.05" y1="354.54" x2="84.95" y2="354.54"/>
<line x1="78.05" y1="311.96" x2="84.95" y2="311.96"/>
<line x1="78.05" y1="269.38" x2="84.95" y2="269.38"/>
<line x1="93.50" y1="439.7" x2="93.50" y2="446.70"/>
<line x1="127.28" y1="439.7" x2="127.28" y2="446.70"/>
<line x1="161.06" y1="439.7" x2="161.06" y2="446.70"/>
<line x1="194.84" y1="439.7" x2="194.84" y2="446.70"/>
<line x1="228.62" y1="439.7" x2="228.62" y2="446.70"/>
<line x1="262.40" y1="439.7" x2="262.40" y2="446.70"/>
<line x1="296.18" y1="439.7" x2="296.18" y2="446.70"/>
<line x1="321.55" y1="439.7" x2="321.55" y2="446.70"/>
<line x1="355.33" y1="439.7" x2="355.33" y2="446.70"/>
<line x1="389.11" y1="439.7" x2="389.11" y2="446.70"/>
<line x1="422.89" y1="439.7" x2="422.89" y2="446.70"/>
<line x1="456.67" y1="439.7" x2="456.67" y2="446.70"/>
<line x1="490.45" y1="439.7" x2="490.45" y2="446.70"/>
<line x1="524.23" y1="439.7" x2="524.23" y2="446.70"/>
</g>
<g font-family="'Liberation Serif',serif" font-weight="bold" font-size="13.9" fill="#000" stroke="#000" stroke-width="0.25">
<text transform="translate(73.35,232.50) scale(0.92,1)" text-anchor="end">0</text>
<text transform="translate(73.35,189.94) scale(0.92,1)" text-anchor="end">2000</text>
<text transform="translate(73.35,147.38) scale(0.92,1)" text-anchor="end">4000</text>
<text transform="translate(73.35,104.82) scale(0.92,1)" text-anchor="end">6000</text>
<text transform="translate(73.35,62.26) scale(0.92,1)" text-anchor="end">8000</text>
<text transform="translate(73.35,19.70) scale(0.92,1)" text-anchor="end">10,000</text>
<text transform="translate(73.35,445.40) scale(0.92,1)" text-anchor="end">0</text>
<text transform="translate(73.35,402.82) scale(0.92,1)" text-anchor="end">2000</text>
<text transform="translate(73.35,360.24) scale(0.92,1)" text-anchor="end">4000</text>
<text transform="translate(73.35,317.66) scale(0.92,1)" text-anchor="end">6000</text>
<text transform="translate(73.35,275.08) scale(0.92,1)" text-anchor="end">8000</text>
<text transform="translate(93.50,461.8) scale(0.92,1)" text-anchor="middle">0</text>
<text transform="translate(127.28,461.8) scale(0.92,1)" text-anchor="middle">20</text>
<text transform="translate(161.06,461.8) scale(0.92,1)" text-anchor="middle">40</text>
<text transform="translate(194.84,461.8) scale(0.92,1)" text-anchor="middle">60</text>
<text transform="translate(228.62,461.8) scale(0.92,1)" text-anchor="middle">80</text>
<text transform="translate(262.40,461.8) scale(0.92,1)" text-anchor="middle">100</text>
<text transform="translate(296.18,461.8) scale(0.92,1)" text-anchor="middle">120</text>
<text transform="translate(321.55,461.8) scale(0.92,1)" text-anchor="middle">0</text>
<text transform="translate(355.33,461.8) scale(0.92,1)" text-anchor="middle">20</text>
<text transform="translate(389.11,461.8) scale(0.92,1)" text-anchor="middle">40</text>
<text transform="translate(422.89,461.8) scale(0.92,1)" text-anchor="middle">60</text>
<text transform="translate(456.67,461.8) scale(0.92,1)" text-anchor="middle">80</text>
<text transform="translate(490.45,461.8) scale(0.92,1)" text-anchor="middle">100</text>
<text transform="translate(524.23,461.8) scale(0.92,1)" text-anchor="middle">120</text>
</g>
<text x="312.8" y="489.6" text-anchor="middle" font-family="'Liberation Serif',serif" font-size="14.2" fill="#111">Time (d)</text>
<text transform="translate(21.4,236.2) rotate(-90)" text-anchor="middle" font-family="'Liberation Serif',serif" font-size="14.6" fill="#111">Cumulative CO<tspan font-size="9" dy="3">2</tspan><tspan dy="-3">-C emission (mg kg</tspan><tspan font-size="9" dy="-5.5">−1</tspan><tspan dy="5.5"> )</tspan></text>
</svg>
</body></html>
